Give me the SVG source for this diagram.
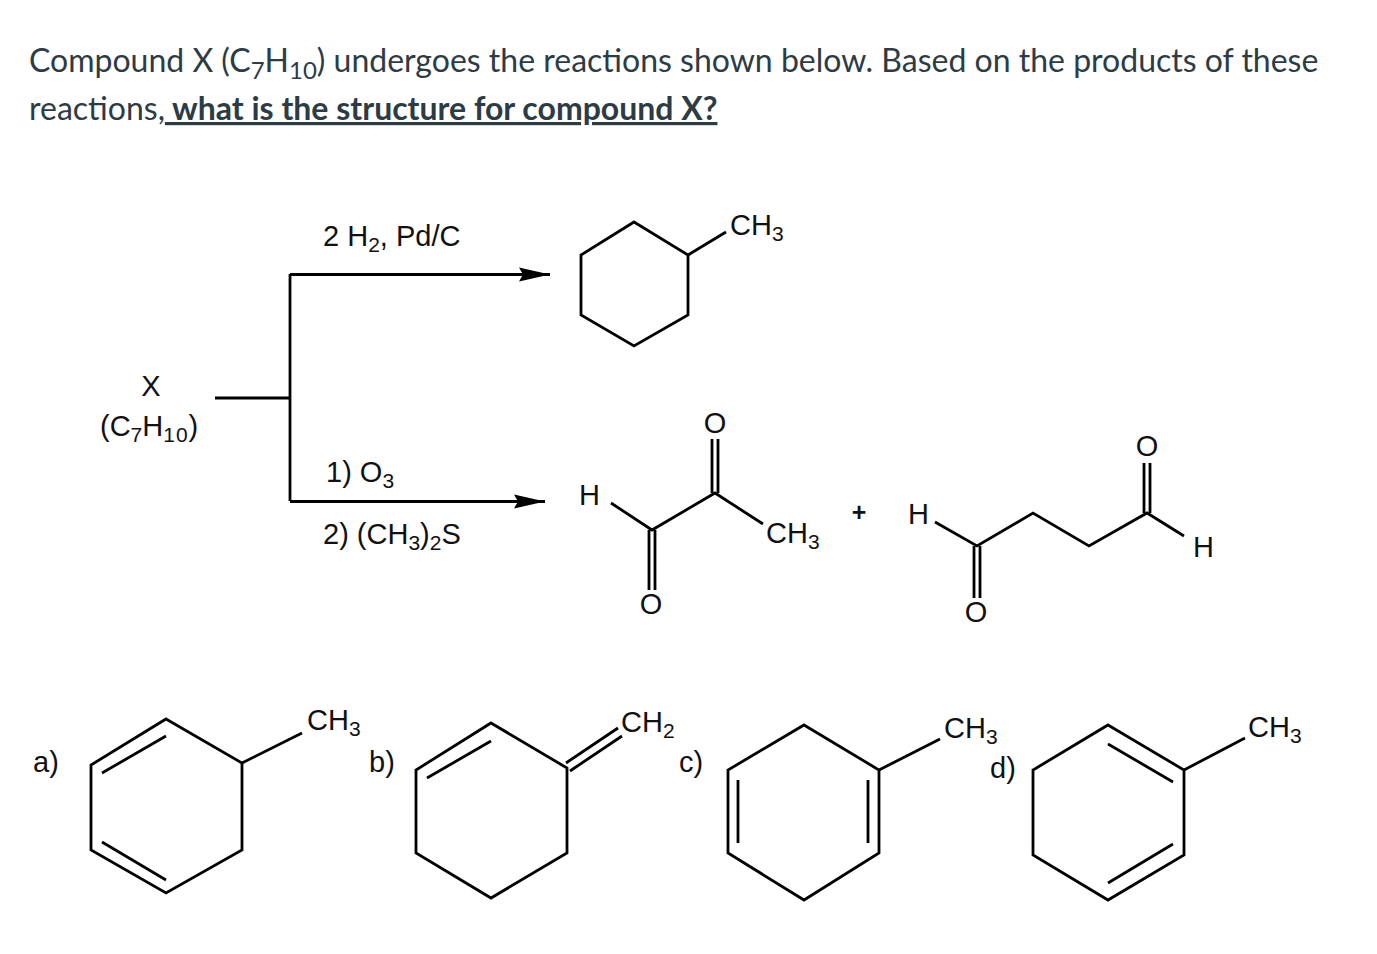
<svg xmlns="http://www.w3.org/2000/svg" width="1377" height="954" viewBox="0 0 1377 954">
<defs>
<style>
.b{fill:none;stroke:#000;stroke-width:2.8;stroke-linejoin:miter}
.c{fill:none;stroke:#000;stroke-width:2.8}
.t{font-family:"Liberation Sans",Arial,sans-serif;font-size:29px;fill:#111}
.s{font-size:21px}
.q{font-family:Lato,"Open Sans",sans-serif;font-size:32px;fill:#2d3b45}
.qs{font-size:24px}
</style>
<marker id="ah" markerUnits="userSpaceOnUse" markerWidth="32" markerHeight="18" refX="31" refY="9" orient="auto"><path d="M0 2L31 9L0 16L4 9Z" fill="#000"/></marker>
</defs>
<rect width="1377" height="954" fill="#fff"/>
<g id="question">
<text class="q" x="29" y="72">Compound X (C<tspan class="qs" dy="7">7</tspan><tspan dy="-7">H</tspan><tspan class="qs" dy="7">10</tspan><tspan dy="-7">) undergoes the reactions shown below. Based on the products of these</tspan></text>
<text class="q" x="29" y="120">reactions,<tspan font-weight="700" text-decoration="underline"> what is the structure for compound X?</tspan></text>
</g>
<g id="connectors">
<path class="c" d="M215 398H290"/>
<path class="c" d="M290 274V501"/>
<path class="c" d="M290 274.500H550" marker-end="url(#ah)"/>
<path class="c" d="M290 501.500H545" marker-end="url(#ah)"/>
</g>
<g id="reactant-x"><text class="t" x="151" y="396" text-anchor="middle">X</text>
<text class="t" x="100" y="436">(C<tspan class="s" dy="6">7</tspan><tspan dy="-6">H</tspan><tspan class="s" dy="6" letter-spacing="1">10</tspan><tspan dy="-6">)</tspan></text></g>
<g id="reagent-1"><text class="t" x="323" y="246">2 H<tspan class="s" dy="6">2</tspan><tspan dy="-6">, Pd/C</tspan></text></g>
<g id="reagent-2"><text class="t" x="326" y="482">1) O<tspan class="s" dy="6">3</tspan></text>
<text class="t" x="323" y="544">2) (CH<tspan class="s" dy="6">3</tspan><tspan dy="-6">)</tspan><tspan class="s" dy="6">2</tspan><tspan dy="-6">S</tspan></text></g>
<g id="product-methylcyclohexane">
<path class="b" d="M634 222L688 255V315L634 346L581 315V255Z"/><path class="b" d="M688 255L726 232"/>
<text class="t" x="730" y="235">CH<tspan class="s" dy="6">3</tspan></text></g>
<g id="product-methylglyoxal">
<path class="b" d="M611 503L652 530L715 493L763 524"/>
<path class="b" d="M649 530V590M655 530V590M712 493V439M718 493V439"/>
<text class="t" x="579" y="505">H</text>
<text class="t" x="651" y="614" text-anchor="middle">O</text>
<text class="t" x="715" y="433" text-anchor="middle">O</text>
<text class="t" x="766" y="543">CH<tspan class="s" dy="6">3</tspan></text></g>
<text id="plus" class="t" x="859" y="521" text-anchor="middle" style="font-size:25px;font-weight:700">+</text>
<g id="product-succinaldehyde">
<path class="b" d="M935 522L977 546L1033 513L1089 546L1147 513L1184 536"/>
<path class="b" d="M974 546V598M980 546V598M1144 513V463M1150 513V463"/>
<text class="t" x="908" y="524">H</text>
<text class="t" x="976" y="622" text-anchor="middle">O</text>
<text class="t" x="1147" y="456" text-anchor="middle">O</text>
<text class="t" x="1193" y="557">H</text></g>
<g id="label-a"><text class="t" x="33" y="772">a)</text></g>
<g id="option-a">
<path class="b" d="M166 719L242 763V850L166 893L91 850V765Z"/><path class="b" d="M242 763L302 733"/>
<path class="b" d="M102 773L166 736M102 842L166 880"/>
<text class="t" x="307" y="730">CH<tspan class="s" dy="6">3</tspan></text></g>
<g id="label-b"><text class="t" x="369" y="772">b)</text></g>
<g id="option-b">
<path class="b" d="M491 723L567 768V853L491 898L416 853V770Z"/>
<path class="b" d="M427 778L491 741M566 763L618 728M570 771L622 736"/>
<text class="t" x="621" y="732">CH<tspan class="s" dy="6">2</tspan></text></g>
<g id="label-c"><text class="t" x="679" y="772">c)</text></g>
<g id="option-c">
<path class="b" d="M804 725L879 770V853L804 900L728 853V770Z"/><path class="b" d="M879 770L940 739"/>
<path class="b" d="M738 780V843M868 780V843"/>
<text class="t" x="944" y="738">CH<tspan class="s" dy="6">3</tspan></text></g>
<g id="label-d"><text class="t" x="990" y="778">d)</text></g>
<g id="option-d">
<path class="b" d="M1108 725L1184 770V855L1108 900L1033 855V770Z"/><path class="b" d="M1184 770L1245 738"/>
<path class="b" d="M1108 744L1173 782M1108 883L1173 844"/>
<text class="t" x="1248" y="737">CH<tspan class="s" dy="6">3</tspan></text></g>
</svg>
